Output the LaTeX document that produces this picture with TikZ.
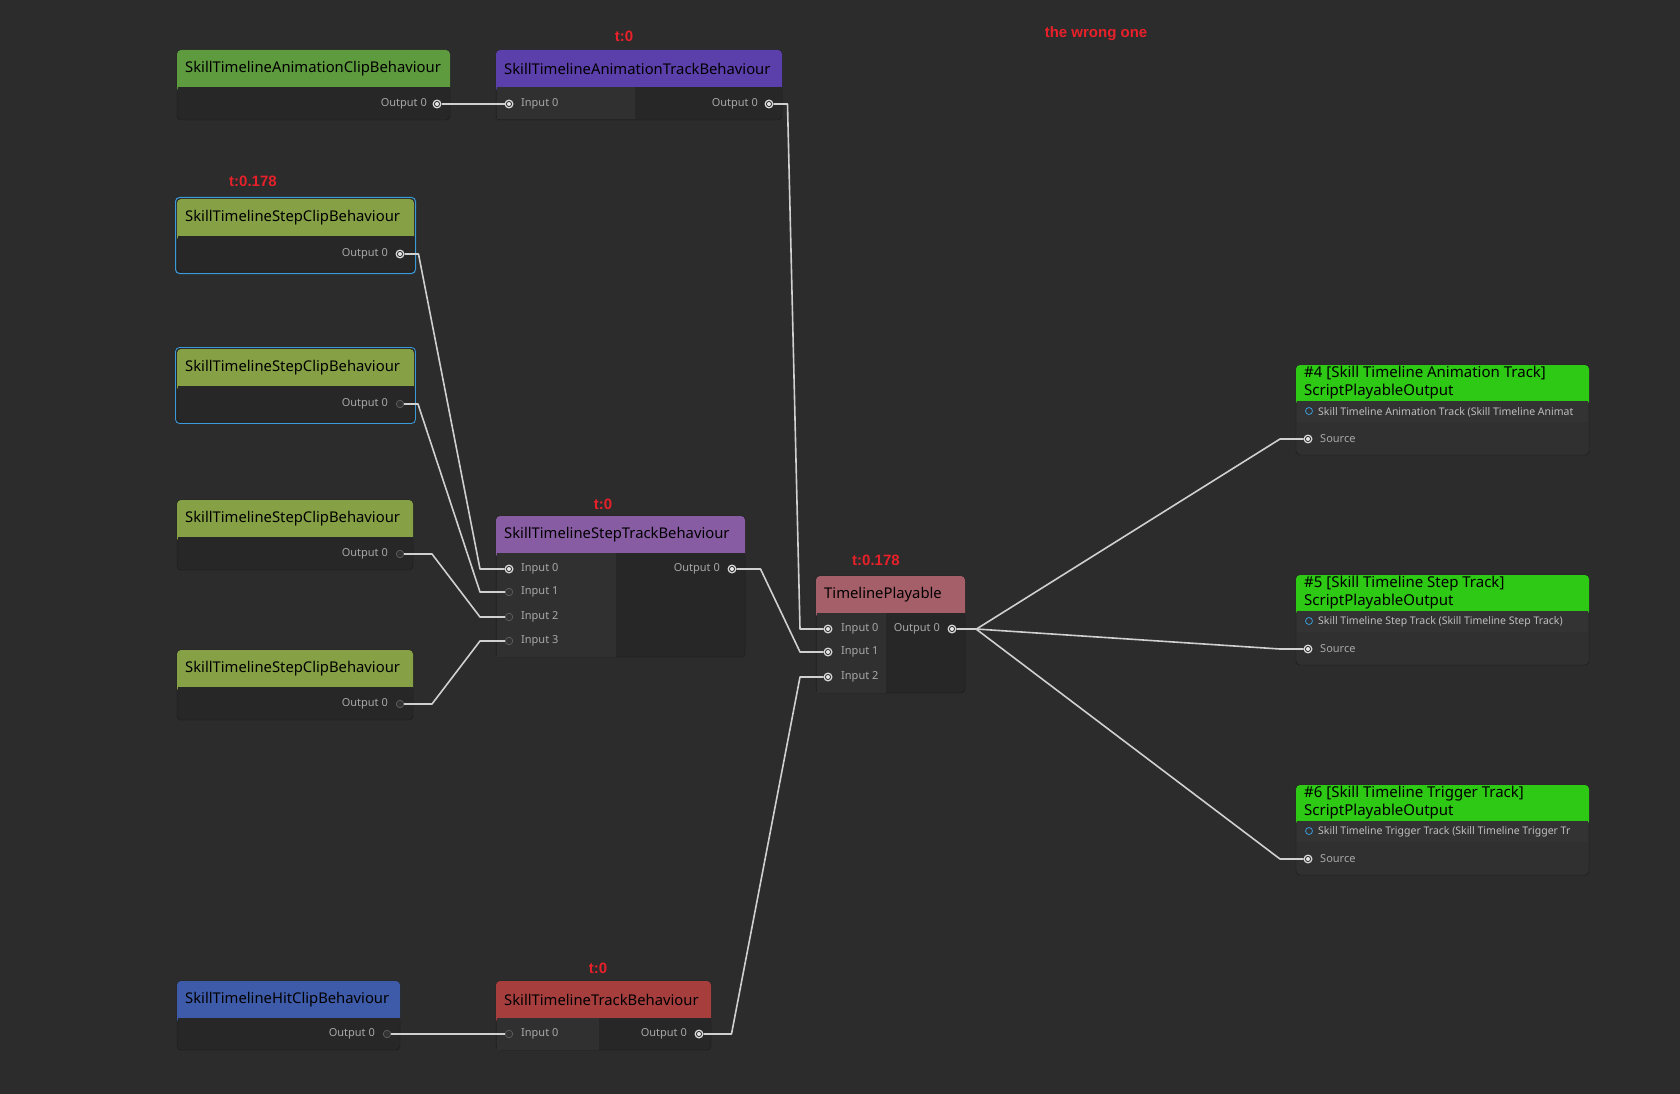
\documentclass[tikz,border=0pt]{standalone}
\usepackage{fontspec}
\setmainfont{Noto Sans}
\newfontfamily\redfont{Liberation Sans}[BoldFont={Liberation Sans Bold}]
\definecolor{bg}{HTML}{2C2C2C}
\definecolor{bodyL}{HTML}{303030}
\definecolor{bodyR}{HTML}{272727}
\definecolor{edge}{HTML}{191919}
\definecolor{wire}{HTML}{D0D0D0}
\definecolor{lbl}{HTML}{A8A8A8}
\definecolor{red}{HTML}{E8202A}
\definecolor{cAC}{HTML}{5E9A3E}
\definecolor{cAT}{HTML}{5B3FAA}
\definecolor{cSC}{HTML}{86A046}
\definecolor{cST}{HTML}{885CA3}
\definecolor{cTP}{HTML}{A55F69}
\definecolor{cOut}{HTML}{2EC914}
\definecolor{cHC}{HTML}{3D5BA8}
\definecolor{cTB}{HTML}{A63E3E}
\definecolor{sel}{HTML}{3A9AD9}
\tikzset{
 title/.style={anchor=west,font=\fontsize{14.8}{17}\selectfont,text=black,inner sep=0},
 plbl/.style={font=\fontsize{11}{12}\selectfont,text=lbl,inner sep=0},
 tlabel/.style={font=\redfont\bfseries\fontsize{15}{17}\selectfont,text=red},
 wirestyle/.style={draw=wire,line width=1.6pt,line join=round},
}
\newcommand{\gnode}[7]{%
 \fill[bodyR,rounded corners=4pt,draw=edge] (#1,#2) rectangle (#3,#4);
 \fill[#6,rounded corners=4pt] (#1,#2) rectangle (#3,#2+#5+5);
 \fill[bodyR] (#1+0.5,#2+#5) rectangle (#3-0.5,#2+#5+6);
 \node[title] at (#1+8,#2+#5/2) {#7};}
\newcommand{\pon}[3]{\coordinate (#1) at (#2,#3);
 \fill[white!85!black] (#1) circle (4.5pt); \fill[bodyR] (#1) circle (3pt); \fill[white!90!black] (#1) circle (2pt);}
\newcommand{\poff}[3]{\coordinate (#1) at (#2,#3);
 \fill[black!80] (#1) circle (3.8pt);\draw[black!60,line width=0.6pt] (#1) circle (3.8pt);}
\begin{document}
\begin{tikzpicture}[x=1pt,y=-1pt]
\fill[bg] (0,0) rectangle (1680,1094);
\useasboundingbox (0,0) rectangle (1680,1094);
\gnode{177}{50}{450}{120}{37}{cAC}{SkillTimelineAnimationClipBehaviour}
\node[plbl,anchor=east] at (427,104) {Output 0};
\gnode{496}{50}{782}{120}{37}{cAT}{SkillTimelineAnimationTrackBehaviour}
\fill[bodyL] (496.5,87) rectangle (635,119.5);
\node[plbl,anchor=west] at (521,104) {Input 0};
\node[plbl,anchor=east] at (758,104) {Output 0};
\gnode{177}{199}{414}{272}{37}{cSC}{SkillTimelineStepClipBehaviour}
\draw[sel,line width=1pt,rounded corners=4pt] (175.5,197.5) rectangle (415.5,273.5);
\node[plbl,anchor=east] at (388,254) {Output 0};
\gnode{177}{349}{414}{422}{37}{cSC}{SkillTimelineStepClipBehaviour}
\draw[sel,line width=0.8pt,rounded corners=4pt] (175.5,347.5) rectangle (415.5,423.5);
\node[plbl,anchor=east] at (388,404) {Output 0};
\gnode{177}{500}{413}{570}{37}{cSC}{SkillTimelineStepClipBehaviour}
\node[plbl,anchor=east] at (388,554) {Output 0};
\gnode{177}{650}{413}{720}{37}{cSC}{SkillTimelineStepClipBehaviour}
\node[plbl,anchor=east] at (388,704) {Output 0};
\gnode{496}{516}{745}{657}{37}{cST}{SkillTimelineStepTrackBehaviour}
\fill[bodyL] (496.5,553) rectangle (616,656.5);
\node[plbl,anchor=west] at (521,569) {Input 0};
\node[plbl,anchor=west] at (521,592) {Input 1};
\node[plbl,anchor=west] at (521,617) {Input 2};
\node[plbl,anchor=west] at (521,641) {Input 3};
\node[plbl,anchor=east] at (720,569) {Output 0};
\gnode{816}{576}{965}{693}{37}{cTP}{TimelinePlayable}
\fill[bodyL] (816.5,613) rectangle (886,692.5);
\node[plbl,anchor=west] at (841,629) {Input 0};
\node[plbl,anchor=west] at (841,652) {Input 1};
\node[plbl,anchor=west] at (841,677) {Input 2};
\node[plbl,anchor=east] at (940,629) {Output 0};
\newcommand{\outnode}[3]{%
 \fill[bodyL,rounded corners=4pt,draw=edge] (1296,#1) rectangle (1589,#1+90);
 \fill[cOut,rounded corners=4pt] (1296,#1) rectangle (1589,#1+40);
 \fill[black!80] (1297,#1+36) rectangle (1588,#1+57);
 \node[title,anchor=north west,align=left,font=\fontsize{15}{17.5}\selectfont] at (1304,#1+1) {#2\\ScriptPlayableOutput};
 \node[title,font=\fontsize{10.5}{12}\selectfont,text=white!75!black] at (1318,#1+47) {#3};
 \draw[sel,line width=0.8pt] (1309,#1+46) circle (3.5pt);
 \node[plbl,anchor=west] at (1320,#1+74) {Source};}
\outnode{365}{\#4 [Skill Timeline Animation Track]}{Skill Timeline Animation Track (Skill Timeline Animat}
\outnode{575}{\#5 [Skill Timeline Step Track]}{Skill Timeline Step Track (Skill Timeline Step Track)}
\outnode{785}{\#6 [Skill Timeline Trigger Track]}{Skill Timeline Trigger Track (Skill Timeline Trigger Tr}
\gnode{177}{981}{400}{1050}{37}{cHC}{SkillTimelineHitClipBehaviour}
\node[plbl,anchor=east] at (375,1034) {Output 0};
\gnode{496}{981}{711}{1050}{37}{cTB}{SkillTimelineTrackBehaviour}
\fill[bodyL] (496.5,1018) rectangle (599,1049.5);
\node[plbl,anchor=west] at (521,1034) {Input 0};
\node[plbl,anchor=east] at (687,1034) {Output 0};
\pon{acO}{437}{104}
\pon{atI}{509}{104}\pon{atO}{769}{104}
\pon{s1O}{400}{254}\poff{s2O}{400}{404}\poff{s3O}{400}{554}\poff{s4O}{400}{704}
\pon{stI0}{509}{569}\poff{stI1}{509}{592}\poff{stI2}{509}{617}\poff{stI3}{509}{641}
\pon{stO}{732}{569}
\pon{tpI0}{828}{629}\pon{tpI1}{828}{652}\pon{tpI2}{828}{677}\pon{tpO}{952}{629}
\pon{o4}{1308}{439}\pon{o5}{1308}{649}\pon{o6}{1308}{859}
\poff{hcO}{387}{1034}\poff{tbI}{509}{1034}\pon{tbO}{699}{1034}
\draw[wirestyle] (acO) ++(4.5,0) -- ([xshift=-4.5pt]atI);
\draw[wirestyle] (atO) ++(4.5,0) -- ++(14,0) -- (800,629) -- ([xshift=-4.5pt]tpI0);
\draw[wirestyle] (s1O) ++(4.5,0) -- ++(14,0) -- (480,569) -- ([xshift=-4.5pt]stI0);
\draw[wirestyle] (s2O) ++(4,0) -- ++(14,0) -- (480,592) -- ([xshift=-4pt]stI1);
\draw[wirestyle] (s3O) ++(4,0) -- ++(28,0) -- (480,617) -- ([xshift=-4pt]stI2);
\draw[wirestyle] (s4O) ++(4,0) -- ++(28,0) -- (480,641) -- ([xshift=-4pt]stI3);
\draw[wirestyle] (stO) ++(4.5,0) -- ++(24,0) -- (800,652) -- ([xshift=-4.5pt]tpI1);
\draw[wirestyle] (tbO) ++(4.5,0) -- ++(28,0) -- (800,677) -- ([xshift=-4.5pt]tpI2);
\draw[wirestyle] (hcO) ++(4,0) -- ([xshift=-4pt]tbI);
\draw[wirestyle] (tpO) ++(4.5,0) -- ++(20,0) -- (1280,439) -- ([xshift=-4.5pt]o4);
\draw[wirestyle] (tpO) ++(24,0) -- (1280,649) -- ([xshift=-4.5pt]o5);
\draw[wirestyle] (tpO) ++(24,0) -- (1280,859) -- ([xshift=-4.5pt]o6);
\node[tlabel] at (624,36) {t:0};
\node[tlabel] at (253,181) {t:0.178};
\node[tlabel] at (603,504) {t:0};
\node[tlabel] at (876,560) {t:0.178};
\node[tlabel] at (598,968) {t:0};
\node[tlabel] at (1096,34) {the wrong one};
\end{tikzpicture}
\end{document}
